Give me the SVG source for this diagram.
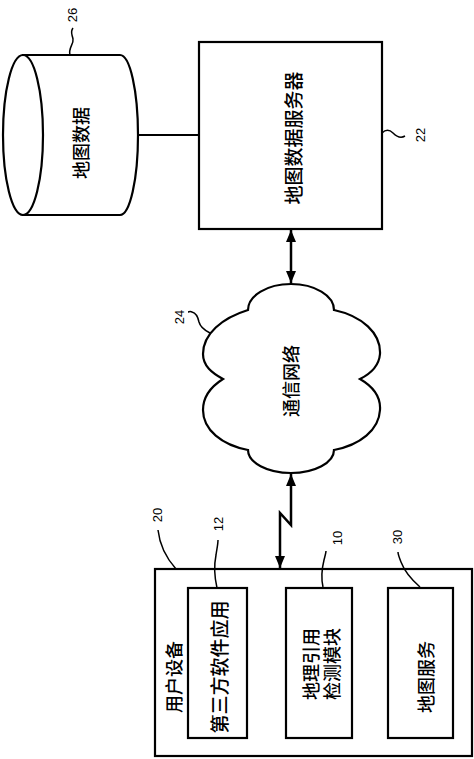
<svg xmlns="http://www.w3.org/2000/svg" width="474" height="759" viewBox="0 0 474 759">
<style>
.s{fill:#fff;stroke:#000;stroke-width:2.2}
.o{fill:none;stroke:#000;stroke-width:2}
.l{fill:none;stroke:#000;stroke-width:1.5}
.c{fill:none;stroke:#000;stroke-width:2.5}
.t{font-family:"Noto Sans CJK SC","Noto Sans",sans-serif;font-size:18px;font-weight:500;text-anchor:middle;dominant-baseline:central;fill:#000}
.n{font-family:"Liberation Sans",Arial,sans-serif;font-size:13px;text-anchor:middle;dominant-baseline:central;fill:#000}
</style>
<defs>
<marker id="ah" viewBox="0 0 12 10" refX="12" refY="5" markerWidth="12" markerHeight="10" markerUnits="userSpaceOnUse" orient="auto-start-reverse">
<path d="M0,0 L12,5 L0,10 z" fill="#000"/>
</marker>
</defs>
<rect width="474" height="759" fill="#fff"/>

<g id="connectors">
<line class="o" x1="138" y1="135" x2="200" y2="135"/>
<line class="c" x1="291" y1="230" x2="291" y2="283" marker-start="url(#ah)" marker-end="url(#ah)"/>
<polyline class="c" points="291,474 291,525 280,513 280,568" marker-start="url(#ah)" marker-end="url(#ah)"/>
<line class="c" x1="248" y1="663" x2="286" y2="663" marker-start="url(#ah)" marker-end="url(#ah)"/>
<line class="c" x1="353" y1="663" x2="388" y2="663" marker-start="url(#ah)" marker-end="url(#ah)"/>
</g>

<g id="map-data">
<path class="s" d="M23,55 L120,55 A18,80 0 0 1 120,215 L23,215 Z"/>
<ellipse class="s" cx="23" cy="135" rx="20" ry="80"/>
<text class="t" transform="translate(80,143) rotate(-90)">地图数据</text>
<path class="l" d="M70,55 C68,48 74,44 73,39 C72,34 70,32 73,28"/>
<text class="n" transform="translate(72,15) rotate(-90)">26</text>
</g>

<g id="map-server">
<rect class="s" x="199" y="42" width="183" height="187"/>
<text class="t" style="font-size:19px" transform="translate(292,138) rotate(-90)">地图数据服务器</text>
<path class="l" d="M382,133 C386,129 390,130 393,133 C396,136 400,139 405,136"/>
<text class="n" transform="translate(420,135) rotate(-90)">22</text>
</g>

<g id="network">
<path class="s" d="M248,310 A43,26 0 0 1 334,310 C362,316 381,333 380,354 C379,366 370,374 360,379 C372,386 381,396 380,410 C379,430 360,445 334,450 A43,23 0 0 1 248,450 C222,445 203,430 203,410 C203,396 212,386 223,379 C212,373 203,366 203,354 C203,334 222,318 248,310 Z"/>
<text class="t" transform="translate(290,381) rotate(-90)">通信网络</text>
<path class="l" d="M210,333 C204,330 200,326 199,322 C198,317 196,313 192,312 C190,311 189,312 188,312"/>
<text class="n" transform="translate(179,317) rotate(-90)">24</text>
</g>

<g id="user-device">
<rect class="s" x="155" y="569" width="317" height="187"/>
<text class="t" transform="translate(173,677) rotate(-90)">用户设备</text>
<path class="l" d="M176,569 C168,560 160,548 158,530"/>
<text class="n" transform="translate(157,515) rotate(-90)">20</text>
</g>

<g id="third-party-app">
<rect class="s" x="188" y="588" width="59" height="150"/>
<text class="t" style="font-size:19px" transform="translate(218,667) rotate(-90)">第三方软件应用</text>
<path class="l" d="M217,588 C214,575 214,565 216,555 C217,548 218,544 218,540"/>
<text class="n" transform="translate(218,524) rotate(-90)">12</text>
</g>

<g id="geo-detect">
<rect class="s" x="286" y="588" width="66" height="150"/>
<text class="t" transform="translate(310,664) rotate(-90)">地理引用</text>
<text class="t" transform="translate(331,664) rotate(-90)">检测模块</text>
<path class="l" d="M323,587 C321,578 322,568 324,560 C325,556 326,553 326,551"/>
<text class="n" transform="translate(337,538) rotate(-90)">10</text>
</g>

<g id="map-service">
<rect class="s" x="388" y="588" width="65" height="150"/>
<text class="t" transform="translate(425,677) rotate(-90)">地图服务</text>
<path class="l" d="M420,587 C412,580 404,570 401,562 C399,557 398,554 398,552"/>
<text class="n" transform="translate(397,537) rotate(-90)">30</text>
</g>
</svg>
